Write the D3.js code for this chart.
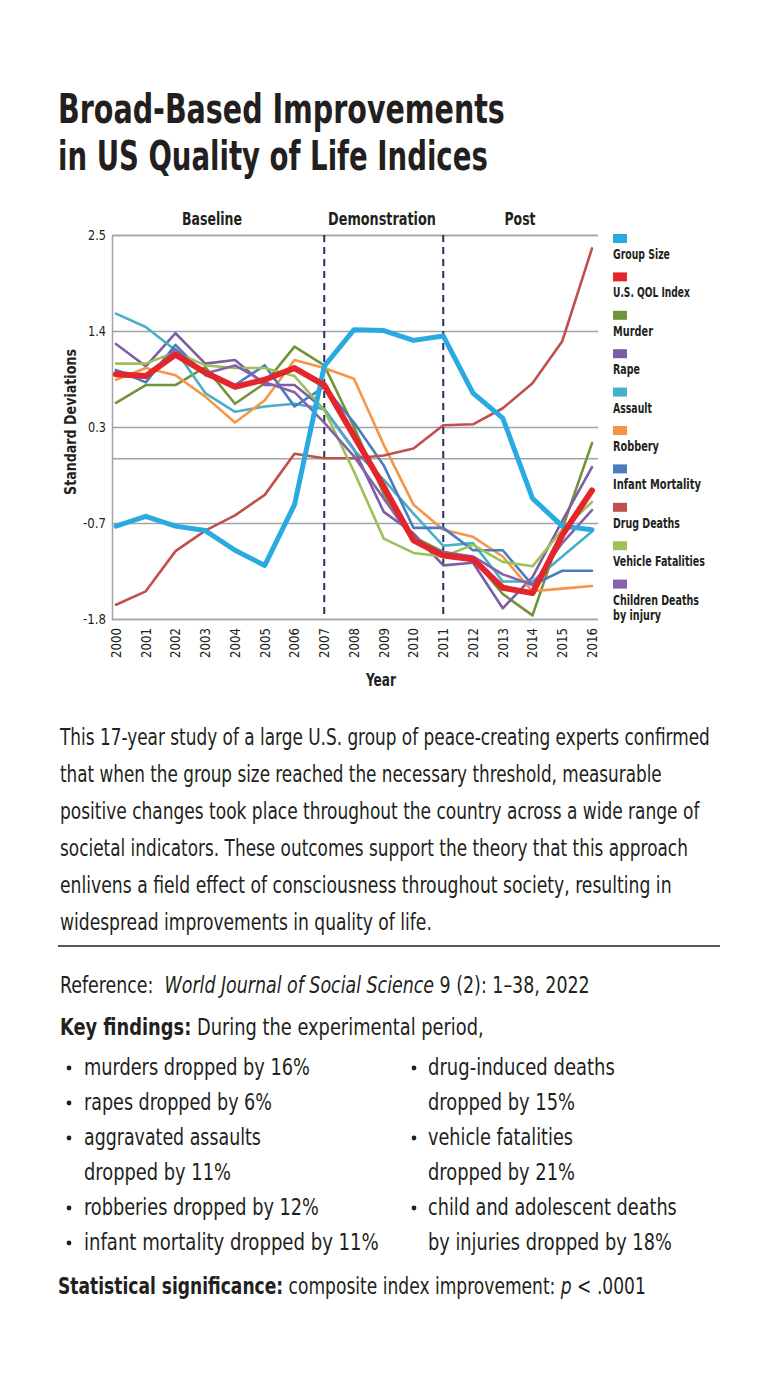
<!DOCTYPE html>
<html><head><meta charset="utf-8">
<script src="https://cdn.jsdelivr.net/npm/d3@7"></script>
<style>
html,body{margin:0;padding:0;background:#fff;}
svg{display:block;}
</style></head>
<body>
<svg id="chart" width="768" height="1396"></svg>
<script>
// ---------------- DATA ----------------
const years = [2000,2001,2002,2003,2004,2005,2006,2007,2008,2009,2010,2011,2012,2013,2014,2015,2016];
const groupSize = [-0.76,-0.65,-0.76,-0.81,-1.03,-1.20,-0.52,1.03,1.44,1.43,1.32,1.37,0.73,0.45,-0.45,-0.76,-0.80];
const qolIndex  = [0.94,0.92,1.16,0.96,0.80,0.88,1.01,0.82,0.25,-0.32,-0.92,-1.09,-1.13,-1.45,-1.51,-0.86,-0.36];
const murder    = [0.62,0.82,0.82,1.02,0.61,0.84,1.25,1.04,0.35,-0.40,-0.88,-1.05,-1.12,-1.52,-1.76,-0.79,0.17];
const rape      = [1.28,1.03,1.40,1.06,1.10,0.82,0.82,0.55,0.10,-0.60,-0.84,-1.20,-1.17,-1.68,-1.33,-0.70,-0.10];
const assault   = [1.62,1.47,1.21,0.73,0.52,0.58,0.61,0.55,0.09,-0.24,-0.62,-0.98,-0.95,-1.38,-1.38,-1.10,-0.82];
const robbery   = [0.88,1.01,0.93,0.69,0.40,0.65,1.10,1.01,0.89,0.15,-0.52,-0.80,-0.88,-1.10,-1.49,-1.46,-1.43];
const infantMortality = [0.99,0.85,1.27,0.93,0.82,1.04,0.58,0.80,0.40,-0.08,-0.78,-0.78,-1.03,-1.03,-1.42,-1.26,-1.26];
const drugDeaths = [-1.64,-1.49,-1.04,-0.81,-0.64,-0.41,0.05,0.00,0.00,0.03,0.11,0.37,0.38,0.56,0.84,1.31,2.35];
const vehicleFatalities = [1.06,1.06,1.19,1.04,1.01,1.01,0.92,0.54,-0.15,-0.90,-1.06,-1.10,-0.97,-1.16,-1.21,-0.80,-0.49];
const childrenDeaths = [0.98,0.90,1.22,0.95,1.04,0.85,0.74,0.40,0.02,-0.45,-0.92,-1.05,-1.10,-1.30,-1.42,-0.95,-0.58];

const seriesNames = ["Group Size","U.S. QOL Index","Murder","Rape","Assault","Robbery","Infant Mortality","Drug Deaths","Vehicle Fatalities","Children Deaths\nby injury"];
const seriesValues = [groupSize,qolIndex,murder,rape,assault,robbery,infantMortality,drugDeaths,vehicleFatalities,childrenDeaths];

const yTickValues = [-1.8,-0.725,0,0.35,1.425,2.5];
const yTickLabels = ["-1.8","-0.7","","0.3","1.4","2.5"];
const periodLabels = ["Baseline","Demonstration","Post"];
const periodBounds = [2007,2011];

const titleLines = ["Broad-Based Improvements","in US Quality of Life Indices"];
const paragraphLines = [
 "This 17-year study of a large U.S. group of peace-creating experts confirmed",
 "that when the group size reached the necessary threshold, measurable",
 "positive changes took place throughout the country across a wide range of",
 "societal indicators. These outcomes support the theory that this approach",
 "enlivens a field effect of consciousness throughout society, resulting in",
 "widespread improvements in quality of life."
];
const leftBullets = [["murders dropped by 16%"],["rapes dropped by 6%"],["aggravated assaults","dropped by 11%"],["robberies dropped by 12%"],["infant mortality dropped by 11%"]];
const rightBullets = [["drug-induced deaths","dropped by 15%"],["vehicle fatalities","dropped by 21%"],["child and adolescent deaths","by injuries dropped by 18%"]];

// ---------------- STYLE ----------------
const colors = ["#29abe2","#e3262b","#71933a","#7d5ea6","#45b0c8","#f5954a","#4a7dc0","#c0504d","#9cc257","#8562a9"];
const widths = [5,6,2.6,2.6,2.6,2.6,2.6,2.6,2.6,2.6];
const FONT = "'Liberation Sans Narrow','DejaVu Sans Condensed','Roboto Condensed','Liberation Sans',Roboto,sans-serif";
const INK = "#231f20";
const svg = d3.select("#chart");

// squeeze a text horizontally to a target width (keeps its anchor)
function fit(sel, w){
  const node = sel.node();
  const nat = node.getComputedTextLength();
  if(!nat) return sel;
  const sx = w/nat;
  const tx = +sel.attr("x")||0, ty = +sel.attr("y")||0;
  const base = sel.attr("transform")||"";
  sel.attr("x",0).attr("y",0).attr("transform",`${base} translate(${tx},${ty}) scale(${sx},1)`);
  return sel;
}

// Title
const titleW = [447,430];
titleLines.forEach((t,i)=>{
  fit(svg.append("text").attr("x",58).attr("y",123+i*47)
    .attr("font-family",FONT).attr("font-weight","bold").attr("font-size",40)
    .attr("fill",INK).text(t), titleW[i]);
});

// ---------------- CHART ----------------
const plotL = 112, plotR = 598;
const x = d3.scaleLinear().domain([2000,2016]).range([116,592]);
const y = d3.scaleLinear().domain([-1.8,2.5]).range([619,235]);

const gy = svg.append("g").attr("transform",`translate(${plotL},0)`)
  .call(d3.axisLeft(y).tickValues(yTickValues).tickSize(-(plotR-plotL))
    .tickFormat(d=>yTickLabels[yTickValues.indexOf(d)]));
gy.select(".domain").attr("stroke","#a3a3a3").attr("stroke-width",1.5);
gy.selectAll(".tick line").attr("stroke","#a3a3a3").attr("stroke-width",1.5);
gy.selectAll(".tick text").attr("x",-6).attr("font-family",FONT).attr("font-size",14)
  .attr("fill",INK).each(function(){
    const t=d3.select(this); const s=t.text();
    if(s) fit(t, s.startsWith("-")?23:18);
  });

// x tick labels (rotated)
const xg = svg.append("g");
years.forEach(yr=>{
  fit(xg.append("text").attr("transform",`translate(${x(yr)},628) rotate(-90)`)
    .attr("text-anchor","end").attr("dy","0.35em")
    .attr("font-family",FONT).attr("font-size",14).attr("fill",INK).text(yr), 30);
});
fit(svg.append("text").attr("x",381).attr("y",686).attr("text-anchor","middle")
  .attr("font-family",FONT).attr("font-weight","bold").attr("font-size",17).attr("fill",INK).text("Year"),30);
fit(svg.append("text").attr("transform","translate(76,422) rotate(-90)").attr("text-anchor","middle")
  .attr("font-family",FONT).attr("font-weight","bold").attr("font-size",16).attr("fill",INK)
  .text("Standard Deviations"),146);

// period separators
periodBounds.forEach(b=>{
  svg.append("line").attr("x1",x(b)).attr("x2",x(b)).attr("y1",y(2.5)).attr("y2",y(-1.8))
    .attr("stroke","#2b2d5c").attr("stroke-width",2).attr("stroke-dasharray","7,5");
});
const periodX = [212,382,520], periodW=[60,108,31];
periodLabels.forEach((p,i)=>{
  fit(svg.append("text").attr("x",periodX[i]).attr("y",225).attr("text-anchor","middle")
    .attr("font-family",FONT).attr("font-weight","bold").attr("font-size",17).attr("fill",INK).text(p), periodW[i]);
});

// lines
const line = d3.line().x((d,i)=>x(years[i])).y(d=>y(d));
const order = [2,3,4,5,6,7,8,9,0,1];
order.forEach(k=>{
  svg.append("path").datum(seriesValues[k]).attr("d",line).attr("fill","none")
    .attr("stroke",colors[k]).attr("stroke-width",widths[k])
    .attr("stroke-linejoin","round").attr("stroke-linecap","round");
});

// legend
const legW = [57,77,40,27,39,46,88,67,92,86];
seriesNames.forEach((n,i)=>{
  const y0 = 234 + i*38.4;
  svg.append("rect").attr("x",613).attr("y",y0).attr("width",14).attr("height",9).attr("fill",colors[i]);
  const parts = n.split("\n");
  parts.forEach((p,j)=>{
    fit(svg.append("text").attr("x",613).attr("y",y0+25+j*15.5)
      .attr("font-family",FONT).attr("font-weight","bold").attr("font-size",13.5).attr("fill",INK).text(p),
      j===0?legW[i]:48);
  });
});

// ---------------- TEXT BLOCK ----------------
const paraW = [650,602,640,628,612,372];
paragraphLines.forEach((t,i)=>{
  fit(svg.append("text").attr("x",60).attr("y",745+i*37)
    .attr("font-family",FONT).attr("font-size",23).attr("fill",INK).text(t), paraW[i]);
});
svg.append("line").attr("x1",58).attr("x2",720).attr("y1",946).attr("y2",946)
  .attr("stroke",INK).attr("stroke-width",1.5);

// mixed-style line: parts = [[text, style]]
function richLine(xp, yp, parts, w){
  const t = svg.append("text").attr("x",xp).attr("y",yp).attr("font-family",FONT)
    .attr("font-size",23).attr("fill",INK).style("white-space","pre");
  parts.forEach(([s,st])=>{
    const ts = t.append("tspan").text(s);
    if(st==="b") ts.attr("font-weight","bold");
    if(st==="i") ts.attr("font-style","italic");
  });
  fit(t,w);
}
richLine(60,993,[["Reference:\u00a0\u00a0",""],["World Journal of Social Science","i"],[" 9 (2): 1–38, 2022",""]],530);
richLine(60,1035,[["Key findings:","b"],[" During the experimental period,",""]],424);

const leftW = [[226],[188],[177,147],[235],[295]];
let row=0;
leftBullets.forEach((b,i)=>{
  svg.append("circle").attr("cx",69).attr("cy",1075+row*35-7).attr("r",2.4).attr("fill",INK);
  b.forEach((t,j)=>{ richLine(84,1075+row*35,[[t,""]],leftW[i][j]); row++; });
});
const rightW = [[187,147],[145,147],[249,244]];
row=0;
rightBullets.forEach((b,i)=>{
  svg.append("circle").attr("cx",414).attr("cy",1075+row*35-7).attr("r",2.4).attr("fill",INK);
  b.forEach((t,j)=>{ richLine(428,1075+row*35,[[t,""]],rightW[i][j]); row++; });
});
richLine(58,1294,[["Statistical significance:","b"],[" composite index improvement: ",""],["p","i"],[" < .0001",""]],588);
</script>
</body></html>
